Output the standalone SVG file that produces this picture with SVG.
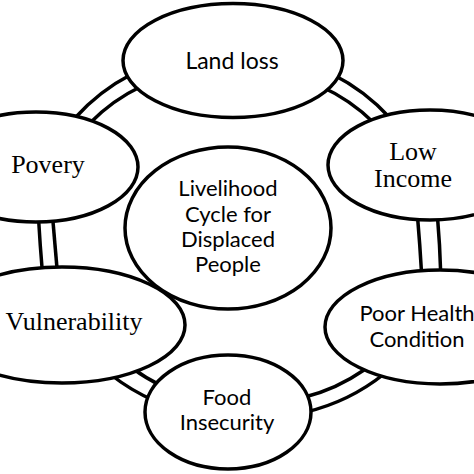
<svg xmlns="http://www.w3.org/2000/svg" width="474" height="474" viewBox="0 0 474 474">
<style>
.n{fill:#fff;stroke:#000;stroke-width:3.5}
.c{fill:none;stroke:#000;stroke-width:3.5}
.s{font-family:Lato,"Noto Sans",sans-serif;font-size:22px;fill:#000;text-anchor:middle}
.t{font-family:"Liberation Serif","Times New Roman",serif;font-size:26px;fill:#000;text-anchor:middle}
</style>
<rect width="474" height="474" fill="#fff"/>
<g id="connectors">
<path class="c" d="M75 118 A200 190 0 0 1 132 74"/>
<path class="c" d="M90 123 A183 173 0 0 1 142 86"/>
<path class="c" d="M332 74 A200 190 0 0 1 390 118"/>
<path class="c" d="M320 86 A183 173 0 0 1 374 123"/>
<path class="c" d="M437 210 Q440 245 441 280"/>
<path class="c" d="M417 210 Q420 245 422 280"/>
<path class="c" d="M38 210 Q40 245 43 280"/>
<path class="c" d="M52 210 Q55 245 58 280"/>
<path class="c" d="M155 401 A200 200 0 0 1 110 374"/>
<path class="c" d="M162 386 A183 183 0 0 1 132 368"/>
<path class="c" d="M384 374 A200 200 0 0 1 306 412"/>
<path class="c" d="M364 370 A183 183 0 0 1 305 397"/>
</g>
<g id="center">
<ellipse class="n" cx="228" cy="228" rx="103" ry="81"/>
<text class="s" x="228" y="196">Livelihood</text>
<text class="s" x="228" y="222">Cycle for</text>
<text class="s" x="228" y="247">Displaced</text>
<text class="s" x="228" y="272">People</text>
</g>
<g id="land-loss">
<ellipse class="n" cx="233" cy="60.5" rx="110" ry="57"/>
<text class="s" x="232" y="69" style="font-size:23px">Land loss</text>
</g>
<g id="povery">
<ellipse class="n" cx="36" cy="167" rx="102" ry="55"/>
<text class="t" x="48" y="173">Povery</text>
</g>
<g id="low-income">
<ellipse class="n" cx="430" cy="165" rx="102" ry="55"/>
<text class="t" x="413" y="160">Low</text>
<text class="t" x="413" y="187">Income</text>
</g>
<g id="vulnerability">
<ellipse class="n" cx="62" cy="325" rx="123" ry="58"/>
<text class="t" x="74" y="330">Vulnerability</text>
</g>
<g id="poor-health">
<ellipse class="n" cx="440" cy="327" rx="115" ry="57"/>
<text class="s" x="417" y="321">Poor Health</text>
<text class="s" x="417" y="347">Condition</text>
</g>
<g id="food-insecurity">
<ellipse class="n" cx="228" cy="412" rx="83" ry="57"/>
<text class="s" x="227" y="405">Food</text>
<text class="s" x="227" y="430">Insecurity</text>
</g>
</svg>
